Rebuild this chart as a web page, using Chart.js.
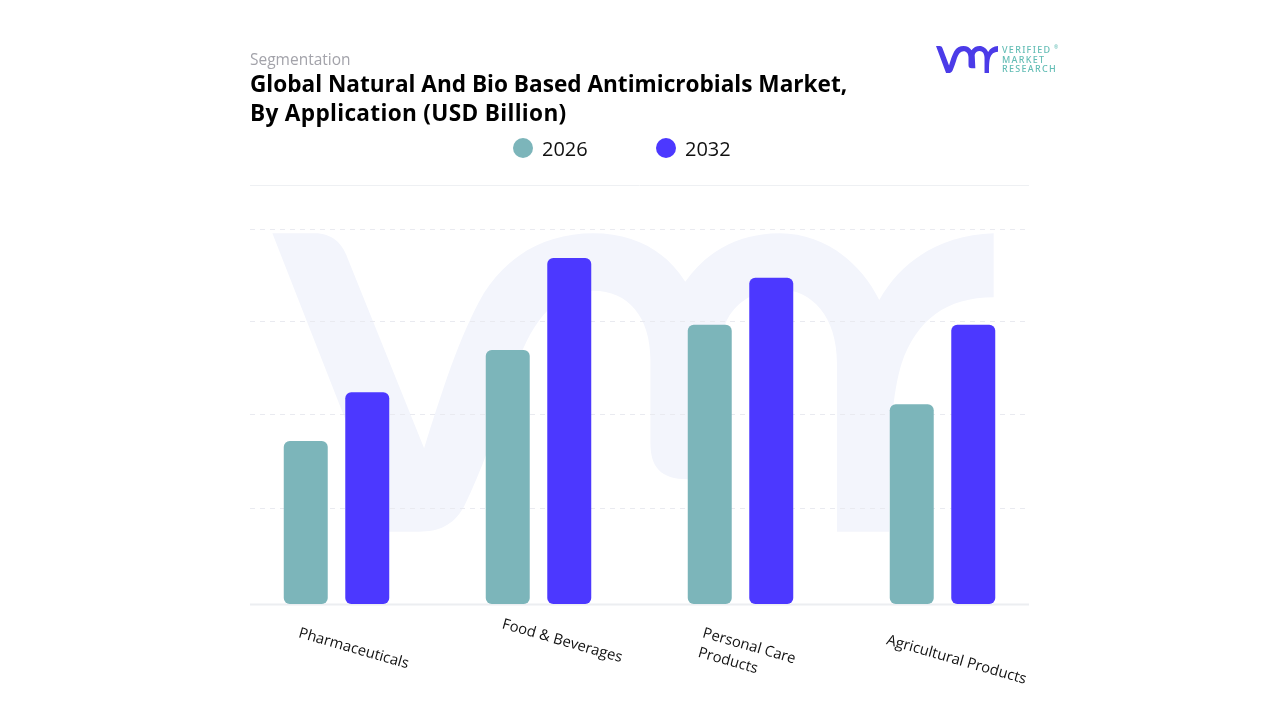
<!DOCTYPE html>
<html>
<head>
<meta charset="utf-8">
<title>Global Natural And Bio Based Antimicrobials Market</title>
<script src="https://cdn.jsdelivr.net/npm/chart.js@4/dist/chart.umd.min.js"></script>
<style>
  html, body { margin: 0; padding: 0; background: #fff; }
  body { width: 1280px; height: 720px; position: relative; overflow: hidden; font-family: "Open Sans", sans-serif; }
  #mark, #logo, #mainChart, .head, .legend-item, .logo-text { position: absolute; }
  #mark { left: 250px; top: 220px; width: 780px; height: 390px; fill: #f3f5fc; }
  #mainChart { left: 0; top: 0; }
  #logo { left: 936px; top: 46px; width: 62px; height: 27px; fill: #4b3be8; }
  .head { left: 250px; white-space: nowrap; }
  #kicker { top: 49px; font-size: 15.5px; line-height: 20px; color: #a3a3aa; }
  #title { top: 69px; font-size: 22.6px; line-height: 29px; font-weight: 700; color: #000; }
  #title span { letter-spacing: 0.32px; }
  .legend-item { top: 137px; height: 22px; font-size: 20px; line-height: 24px; color: #111; padding-left: 28px; }
  .legend-item i { position: absolute; left: -1px; top: 1px; width: 20px; height: 20px; border-radius: 50%; }
  .logo-text { left: 1002px; font-size: 9px; line-height: 10px; letter-spacing: 1.3px; font-weight: 500; color: #63bdb5; white-space: nowrap; font-family: "Noto Sans", sans-serif; }
</style>
</head>
<body>
<svg id="mark" viewBox="0 0 1568 1170" preserveAspectRatio="none"><path id="vmrPath" d="M45 40 L130 40 C165 40 185 70 195 110 L350 685 C385 520 420 350 470 220 C520 100 600 40 690 40 C770 40 835 90 875 185 C920 90 985 40 1065 40 C1150 40 1225 120 1265 240 C1310 120 1390 45 1495 40 L1495 232 C1400 232 1340 300 1310 430 C1290 530 1285 650 1285 935 L1180 935 L1180 430 C1180 290 1130 210 1065 208 C1010 208 960 260 950 340 L965 778 L880 778 C825 778 805 740 805 670 L805 420 C805 290 760 212 690 212 C620 212 570 290 535 440 C500 600 470 740 430 860 C410 915 380 935 340 935 L280 935 Z"/></svg>
<canvas id="mainChart" width="1280" height="720"></canvas>
<svg id="logo" viewBox="45 40 1450 895" preserveAspectRatio="none"><use href="#vmrPath"/></svg>
<div class="logo-text" style="top:45px">VERIFIED</div>
<div class="logo-text" style="top:55px">MARKET</div>
<div class="logo-text" style="top:64px">RESEARCH</div>
<div class="logo-text" style="top:42px;left:1054px;font-size:5px;letter-spacing:0">®</div>
<div class="head" id="kicker">Segmentation</div>
<div class="head" id="title">Global Natural And Bio Based Antimicrobials Market,<br><span>By Application (USD Billion)</span></div>
<div id="legend"></div>
<script>
const categories = [['Pharmaceuticals'], ['Food & Beverages'], ['Personal Care', 'Products'], ['Agricultural Products']];
const seriesNames = ['2026', '2032'];
const values2026 = [1.74, 2.71, 2.98, 2.13];
const values2032 = [2.26, 3.69, 3.48, 2.98];
const seriesColors = ['#7cb5ba', '#4c38ff'];
const gridTicks = [1.024, 2.027, 3.019, 4];
const axisMax = 4.47;

// where each slanted label starts, relative to its category centre and the baseline
const labelShift = [[-37.5, 29], [-36, 20], [-37.5, 29], [-55.5, 36]];

// legend sits off-centre in the reference so it is not the built-in one
const legendLeft = [514, 657];
seriesNames.forEach((name, i) => {
    const item = document.createElement('div');
    item.className = 'legend-item';
    item.style.left = legendLeft[i] + 'px';
    item.innerHTML = '<i style="background:' + seriesColors[i] + '"></i>' + name;
    document.getElementById('legend').appendChild(item);
});

// grid runs narrower than the category band, so it is drawn from the y scale here
const gridPlugin = {
    id: 'vmrGrid',
    beforeDatasetsDraw(chart) {
        const { ctx, scales: { y } } = chart;
        const x0 = 250, x1 = 1029;
        ctx.save();
        ctx.lineWidth = 1;
        ctx.strokeStyle = '#e9eaf0';
        ctx.setLineDash([5, 5]);
        gridTicks.forEach(t => {
            const py = Math.round(y.getPixelForValue(t)) + 0.5;
            ctx.beginPath();
            ctx.moveTo(x0, py);
            ctx.lineTo(x1, py);
            ctx.stroke();
        });
        ctx.setLineDash([]);
        ctx.strokeStyle = '#eef0f3';
        ctx.beginPath();
        ctx.moveTo(x0, y.getPixelForValue(axisMax) + 0.5);
        ctx.lineTo(x1, y.getPixelForValue(axisMax) + 0.5);
        ctx.stroke();
        ctx.lineWidth = 2;
        ctx.strokeStyle = '#eceef1';
        ctx.beginPath();
        ctx.moveTo(x0, y.getPixelForValue(0) + 0.5);
        ctx.lineTo(x1, y.getPixelForValue(0) + 0.5);
        ctx.stroke();
        ctx.restore();
    }
};

// chart.js only slants ticks the other way round, so the labels are drawn here
const slantedLabels = {
    id: 'slantedLabels',
    afterDraw(chart) {
        const { ctx, scales: { x, y } } = chart;
        ctx.save();
        ctx.font = '14.8px "Open Sans"';
        ctx.fillStyle = '#111';
        ctx.textAlign = 'left';
        ctx.textBaseline = 'middle';
        categories.forEach((lines, i) => {
            ctx.save();
            ctx.translate(x.getPixelForTick(i) + labelShift[i][0], y.getPixelForValue(0) + labelShift[i][1]);
            ctx.rotate(16 * Math.PI / 180);
            lines.forEach((line, n) => ctx.fillText(line, n, n * 20));
            ctx.restore();
        });
        ctx.restore();
    }
};

new Chart(document.getElementById('mainChart').getContext('2d'), {
    type: 'bar',
    data: {
        labels: categories,
        datasets: [
            { label: seriesNames[0], data: values2026, backgroundColor: seriesColors[0] },
            { label: seriesNames[1], data: values2032, backgroundColor: seriesColors[1] }
        ]
    },
    options: {
        responsive: false,
        animation: false,
        layout: { padding: { left: 235.5, right: 236.5, top: 185, bottom: 116 } },
        datasets: {
            bar: { categoryPercentage: 0.609, barPercentage: 0.715, borderRadius: 6, borderSkipped: false }
        },
        plugins: { legend: { display: false }, tooltip: { enabled: false } },
        scales: {
            x: { display: false, grid: { display: false } },
            y: { display: false, min: 0, max: axisMax, grid: { display: false } }
        }
    },
    plugins: [gridPlugin, slantedLabels]
});
</script>
</body>
</html>
